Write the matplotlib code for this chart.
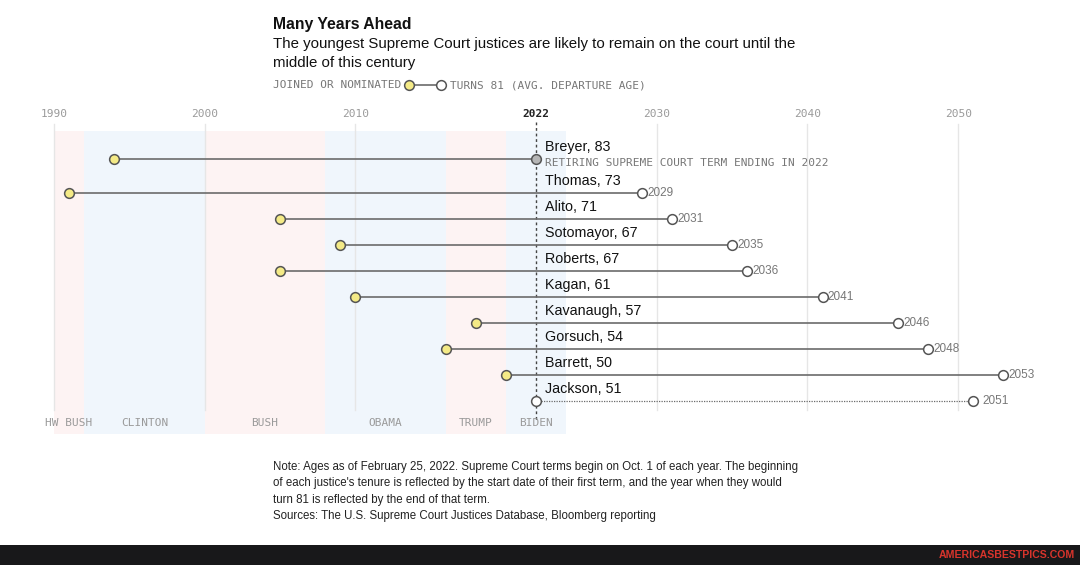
import matplotlib
matplotlib.use("Agg")
import matplotlib.pyplot as plt

### Daten
justices = ['Breyer', 'Thomas', 'Alito', 'Sotomayor', 'Roberts', 'Kagan',
            'Kavanaugh', 'Gorsuch', 'Barrett', 'Jackson']
ages = [83, 73, 71, 67, 67, 61, 57, 54, 50, 51]
joined = [1994, 1991, 2005, 2009, 2005, 2010, 2018, 2016, 2020, 2022]
turns_81 = [2022, 2029, 2031, 2035, 2036, 2041, 2046, 2048, 2053, 2051]

presidents = ['HW BUSH', 'CLINTON', 'BUSH', 'OBAMA', 'TRUMP', 'BIDEN']
pres_start = [1990, 1992, 2000, 2008, 2016, 2020]
pres_end = [1992, 2000, 2008, 2016, 2020, 2024]
pres_party = ['R', 'D', 'R', 'D', 'R', 'D']

tick_years = [1990, 2000, 2010, 2022, 2030, 2040, 2050]
today = 2022

### Layout (Pixel)
W, H = 1080, 565
px_per_year = 15.07
x0_px = 54                                    # Pixel von 1990
row_y = [159, 193, 219, 245, 271, 297, 323, 349, 375, 401]

sans = 'Liberation Sans'
mono = 'DejaVu Sans Mono'
yellow = '#f4ea86'
edge = '#555555'
line_c = '#6b6b6b'
grey_txt = '#9a9a9a'

fig = plt.figure(figsize=(W / 100, H / 100), dpi=100)

# Achse in Jahren (x) und Pixeln (y)
ax = fig.add_axes([0, 0, 1, 1])
ax.set_xlim(1990 - x0_px / px_per_year, 1990 + (W - x0_px) / px_per_year)
ax.set_ylim(H, 0)
ax.axis('off')

# Präsidenten-Bänder
band_col = {'R': '#fdf3f3', 'D': '#f0f6fc'}
for name, s, e, p in zip(presidents, pres_start, pres_end, pres_party):
    ax.fill_between([s, e], 131, 434, color=band_col[p], lw=0, zorder=0)
    ax.text((s + e) / 2, 423, name, ha='center', va='center', family=mono,
            fontsize=8, color=grey_txt, zorder=3)

# Gitterlinien und Jahreszahlen
for yr in tick_years:
    if yr == today:
        ax.text(yr, 114, str(yr), ha='center', va='center', family=mono,
                fontsize=8, fontweight='bold', color='#222222')
        ax.plot([yr, yr], [122, 420], color='#444444', lw=1,
                dashes=(2, 2), zorder=2)
    else:
        ax.text(yr, 114, str(yr), ha='center', va='center', family=mono,
                fontsize=8, color=grey_txt)
        ax.plot([yr, yr], [124, 410], color='#e6e6e6', lw=1, zorder=1)

# Richter
for i, name in enumerate(justices):
    y = row_y[i]
    if name == 'Jackson':
        ax.plot([joined[i], turns_81[i]], [y, y], color=line_c, lw=0.9,
                dashes=(1, 1), zorder=3)
        ax.plot(joined[i], y, 'o', ms=7, mfc='white', mec=edge, mew=1.1, zorder=5)
        ax.plot(turns_81[i], y, 'o', ms=7, mfc='white', mec=edge, mew=1.1, zorder=5)
        ax.text(turns_81[i] + 0.6, y, str(turns_81[i]), ha='left', va='center',
                family=sans, fontsize=8.5, color='#777777')
    elif name == 'Breyer':
        ax.plot([joined[i], turns_81[i]], [y, y], color=line_c, lw=1.2, zorder=3)
        ax.plot(joined[i], y, 'o', ms=7, mfc=yellow, mec=edge, mew=1.1, zorder=5)
        ax.plot(turns_81[i], y, 'o', ms=7, mfc='#b5b5b5', mec=edge, mew=1.1, zorder=5)
        ax.text(today + 0.55, y + 4, 'RETIRING SUPREME COURT TERM ENDING IN 2022',
                ha='left', va='center', family=mono, fontsize=8, color='#777777')
    else:
        ax.plot([joined[i], turns_81[i]], [y, y], color=line_c, lw=1.2, zorder=3)
        ax.plot(joined[i], y, 'o', ms=7, mfc=yellow, mec=edge, mew=1.1, zorder=5)
        ax.plot(turns_81[i], y, 'o', ms=7, mfc='white', mec=edge, mew=1.1, zorder=5)
        ax.text(turns_81[i] + 0.35, y, str(turns_81[i]), ha='left', va='center',
                family=sans, fontsize=8.5, color='#777777')
    ax.text(today + 0.55, y - 12, f'{name}, {ages[i]}', ha='left', va='center',
            family=sans, fontsize=10.3, color='#111111', zorder=4)

# Pixel-Achse für Titel, Legende, Fußnote
ov = fig.add_axes([0, 0, 1, 1])
ov.set_xlim(0, W)
ov.set_ylim(H, 0)
ov.axis('off')
ov.patch.set_alpha(0)

ov.text(273, 24, 'Many Years Ahead', ha='left', va='center', family=sans,
        fontsize=11.3, fontweight='bold', color='#111111')
ov.text(273, 44, 'The youngest Supreme Court justices are likely to remain on the court until the',
        ha='left', va='center', family=sans, fontsize=10.8, color='#111111')
ov.text(273, 63, 'middle of this century', ha='left', va='center', family=sans,
        fontsize=10.8, color='#111111')

ov.text(273, 85, 'JOINED OR NOMINATED', ha='left', va='center', family=mono,
        fontsize=8, color='#777777')
ov.plot([409, 441], [85, 85], color=line_c, lw=1.2)
ov.plot(409, 85, 'o', ms=7, mfc=yellow, mec=edge, mew=1.1)
ov.plot(441, 85, 'o', ms=7, mfc='white', mec=edge, mew=1.1)
ov.text(450, 85, 'TURNS 81 (AVG. DEPARTURE AGE)', ha='left', va='center',
        family=mono, fontsize=8, color='#777777')

note = ['Note: Ages as of February 25, 2022. Supreme Court terms begin on Oct. 1 of each year. The beginning',
        "of each justice's tenure is reflected by the start date of their first term, and the year when they would",
        'turn 81 is reflected by the end of that term.',
        'Sources: The U.S. Supreme Court Justices Database, Bloomberg reporting']
for k, line in enumerate(note):
    ov.text(273, 467 + k * 16.3, line, ha='left', va='center', family=sans,
            fontsize=8.3, color='#222222')

# Fußleiste
ov.fill_between([0, W], 545, 565, color='#18181a', lw=0)
ov.text(1075, 555, 'AMERICASBESTPICS.COM', ha='right', va='center', family=sans,
        fontsize=7.6, fontweight='bold', color='#d8342c')

fig.savefig('out.png', dpi=100)
